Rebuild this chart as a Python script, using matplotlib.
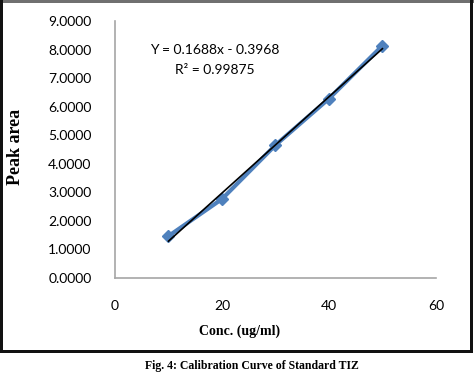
import matplotlib
matplotlib.use("Agg")
import matplotlib.pyplot as plt
from matplotlib.patches import Rectangle
import numpy as np

# calibration data
conc = [10, 20, 30, 40, 50]
peak_area = [1.47, 2.77, 4.66, 6.29, 8.15]
slope = 0.1688
intercept = -0.3968
r_squared = 0.99875

x_ticks = [0, 20, 40, 60]
y_ticks = [0, 1, 2, 3, 4, 5, 6, 7, 8, 9]

fig = plt.figure(figsize=(4.74, 3.79), dpi=100)
ax = fig.add_axes([0.2426, 0.2665, 0.677, 0.677])

# trendline
fit_x = np.array([conc[0], conc[-1]])
ax.plot(conc, peak_area, color="#4F81BD", linewidth=3, marker="D",
        markersize=6.5, zorder=2)
ax.plot(fit_x, slope * fit_x + intercept, color="black", linewidth=1.2, zorder=3)

ax.set_xlim(0, 60)
ax.set_ylim(0, 9)
ax.set_xticks(x_ticks)
ax.set_yticks(y_ticks)
ax.set_yticklabels([f"{v:.4f}" for v in y_ticks])
ax.tick_params(length=0, labelsize=10)
ax.tick_params(axis="y", pad=17)
ax.tick_params(axis="x", pad=16)
for lab in ax.get_xticklabels() + ax.get_yticklabels():
    lab.set_family("Lato")

for side in ["top", "right"]:
    ax.spines[side].set_visible(False)
for side in ["left", "bottom"]:
    ax.spines[side].set_color("#A6A6A6")
    ax.spines[side].set_linewidth(1.2)

ax.text(0.31, 0.89, f"Y = {slope}x - {abs(intercept)}", transform=ax.transAxes,
        ha="center", va="center", fontsize=10, family="Lato")
ax.text(0.31, 0.81, f"R² = {r_squared}", transform=ax.transAxes,
        ha="center", va="center", fontsize=10, family="Lato")

fig.text(15 / 474, 1 - 147 / 379, "Peak area", rotation=90, ha="center", va="center",
         fontsize=13, fontweight="bold", family="Liberation Serif")
fig.text(240 / 474, 1 - 331 / 379, "Conc. (ug/ml)", ha="center", va="center",
         fontsize=10, fontweight="bold", family="Liberation Serif")
fig.text(252 / 474, 1 - 366 / 379, "Fig. 4: Calibration Curve of Standard TIZ",
         ha="center", va="center", fontsize=8.5, fontweight="bold",
         family="Liberation Serif")

# frame around the chart
W, H = 474, 379
def px_rect(x0, y0, w, h, color):
    fig.patches.append(Rectangle((x0 / W, 1 - (y0 + h) / H), w / W, h / H,
                                 transform=fig.transFigure, color=color,
                                 linewidth=0, zorder=5))

px_rect(0, 0, W, 2.5, "#707070")
px_rect(0, 0, 2.5, 353, "#111111")
px_rect(469.5, 0, 3, 353, "#111111")
px_rect(0, 350, 472.5, 3, "#111111")

fig.savefig("out.png", dpi=100)
